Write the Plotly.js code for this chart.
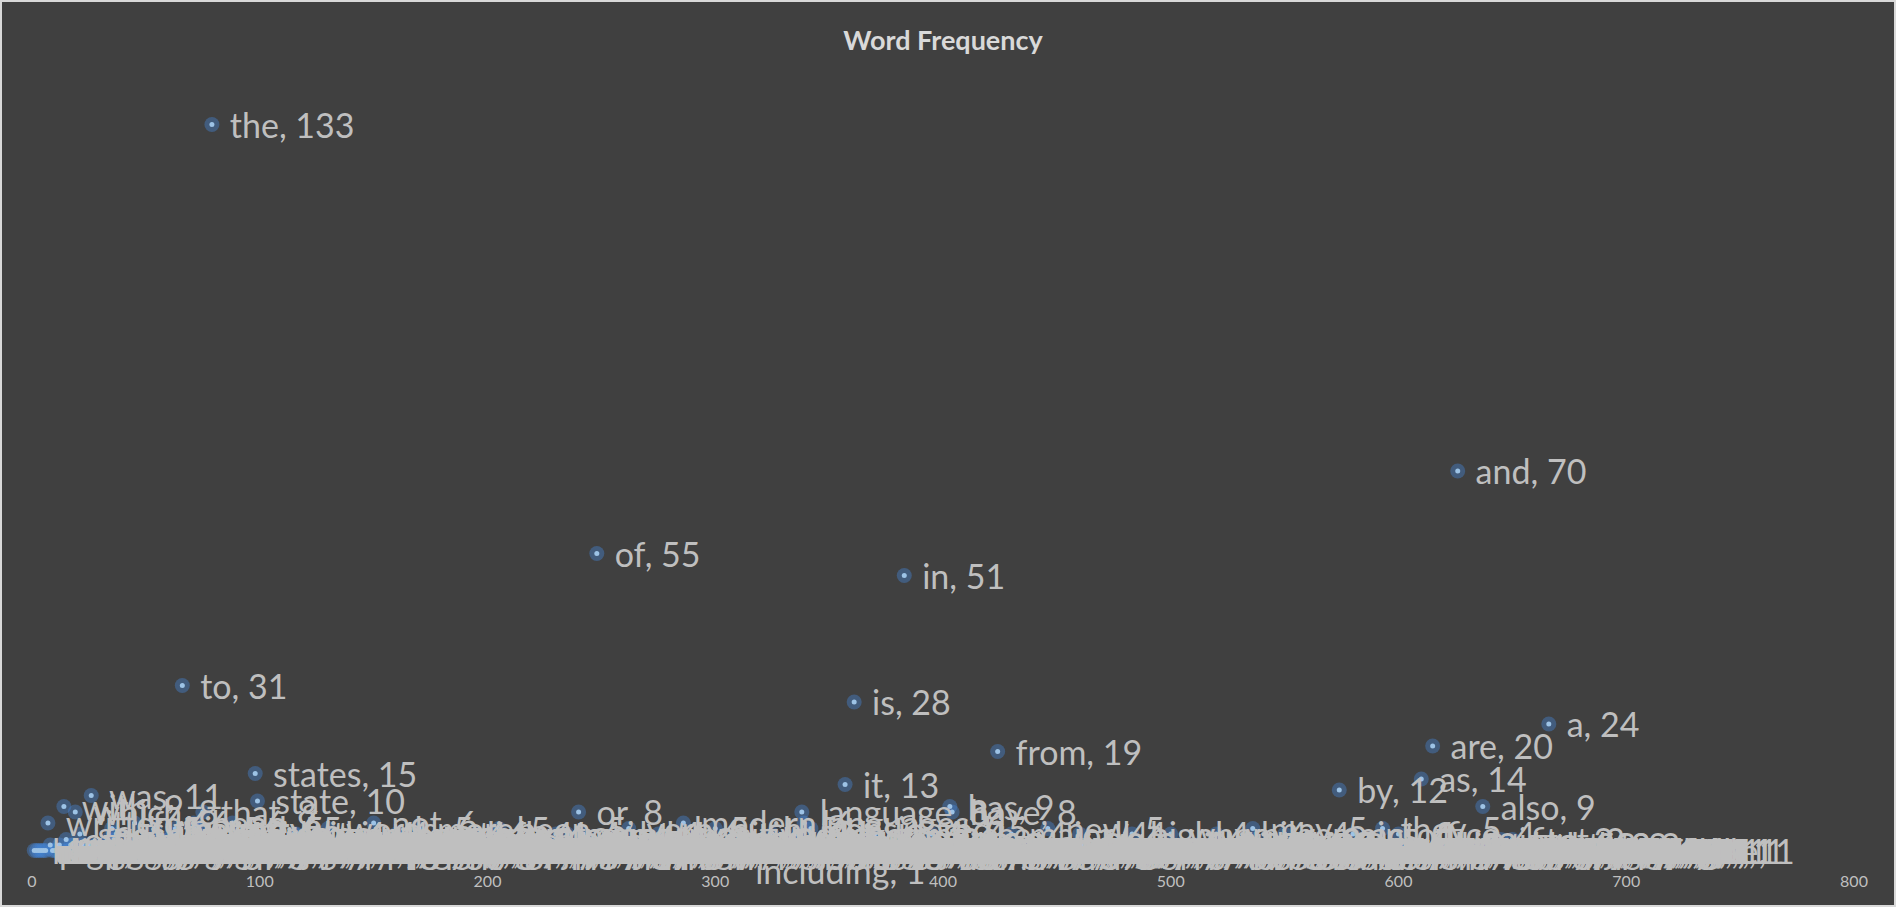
<!DOCTYPE html>
<html>
<head>
<meta charset="utf-8">
<script src="https://cdn.plot.ly/plotly-3.0.1.min.js"></script>
<style>
  html, body { margin: 0; padding: 0; background: #404040; }
  #wrap { position: relative; width: 1896px; height: 907px; }
  #chart { width: 1896px; height: 907px; }
  #frame { position: absolute; left: 0; top: 0; width: 1896px; height: 907px; box-sizing: border-box; border: 2px solid #D9D9D9; pointer-events: none; }
</style>
</head>
<body>
<div id="wrap"><div id="chart"></div><div id="frame"></div></div>
<script>
// Words in plotting order (x position = order in list, as Excel does for text x-values)
const words = [
  "hindi","urdu","region","primarily","northern","central","written","spoken","bengal","lingua",
  "franca","national","capital","with","official","census","million","people","which","speak",
  "speakers","second","nearly","percent","population","was","recognized","constitution","schedule","eighth",
  "among","twenty","two","scheduled","its","devanagari","script","alphabet","left","right",
  "direction","letters","vowels","consonants","for","each","syllable","sound","sounds","vowel",
  "mark","diacritic","inherent","this","system","known","abugida","derived","brahmi","ancient",
  "indian","scripts","century","common","era","to","evolved","gupta","nagari","variety",
  "be","were","used","write","that","several","marathi","nepali","the","konkani",
  "sanskrit","prakrit","apabhramsa","old","middle","stages","development","an","indo","aryan",
  "branch","family","european","iranian","subgroup","closely","related","states","state","union",
  "government","territories","bihar","uttar","pradesh","madhya","rajasthan","haryana","himachal","delhi",
  "jharkhand","chhattisgarh","uttarakhand","belt","their","other","local","dialect","standard","standardised",
  "register","khariboli","vernacular","area","around","vocabulary","borrowed","persian","arabic","words",
  "loanwords","tatsama","tadbhava","directly","inherited","through","changes","phonological","over","time",
  "history","mughal","empire","court","hindustani","mutually","intelligible","colloquial","level","not",
  "but","differ","formal","literary","literature","poetry","prose","poets","works","one",
  "most","widely","world","third","after","mandarin","spanish","english","some","more",
  "than","countries","nepal","fiji","mauritius","suriname","guyana","trinidad","tobago","south",
  "africa","diaspora","communities","united","kingdom","canada","emirates","arab","abroad","migrants",
  "indentured","labourers","colonial","british","rule","independence","since","adopted","assembly","debate",
  "compromise","numerals","international","form","been","article","declared","shall","duty","promote",
  "spread","develop","serve","medium","expression","composite","culture","day","celebrated","september",
  "fourteenth","every","year","diwas","january","tenth","council","institutions","education","taught",
  "schools","universities","compulsory","subject","many","three","policy","formula","regional","or",
  "grammatical","gender","masculine","feminine","nouns","number","singular","of","case","direct",
  "oblique","vocative","postpositions","instead","prepositions","verbs","agree","object","order","sov",
  "typical","verb","final","auxiliary","tense","aspect","mood","perfective","imperfective","progressive",
  "split","ergative","alignment","past","transitive","pronouns","honorific","distinctions","familiar","intimate",
  "respectful","forms","person","address","polite","modern","phonology","aspirated","unaspirated","stops",
  "retroflex","dental","nasal","nasalized","fricatives","loan","pronounced","rural","urban","such",
  "early","texts","amir","khusrau","thirteenth","poet","called","hindavi","dehlavi","name",
  "term","originally","meant","land","indus","including","river","sindhu","became","referring",
  "inhabitants","adjective","suffix","meaning","during","medieval","bhakti","movement","kabir","tulsidas",
  "ramcharitmanas","epic","awadhi","braj","bhasha","dialects","varieties","language","languages","bhojpuri",
  "maithili","considered","separate","distinct","however","linguists","classify","western","eastern","groups",
  "group","includes","bundeli","kannauji","haryanvi","chhattisgarhi","it","bagheli","magahi","continuum",
  "is","pahari","between","neighbouring","gujarati","punjabi","rajasthani","marwari","malvi","same",
  "media","film","industry","bollywood","films","songs","television","radio","newspapers","print",
  "press","internet","in","usage","growing","online","content","unicode","computing","software",
  "keyboard","input","methods","typing","these","fonts","digital","resources","dictionary","dictionaries",
  "compiled","scholars","has","have","grierson","survey","linguistic","conducted","nineteenth","twentieth",
  "centuries","missionaries","grammars","published","translation","bible","sahitya","sammelan","founded","society",
  "pracharini","sabha","varanasi","from","allahabad","prayagraj","city","cities","lucknow","major",
  "centres","learning","writers","premchand","novels","stories","short","novelist","chhayavad","romantic",
  "nirala","prasad","pant","mahadevi","verma","new","trends","realism","experimental","nai",
  "kahani","post","contemporary","authors","awards","prize","academy","honours","recognition","all",
  "global","status","conference","held","organised","secretariat","port","louis","ministry","affairs",
  "external","commission","technical","terminology","scientific","coined","terms","purist","purism","sanskritised",
  "criticism","artificial","high","difficult","everyday","speech","mixed","hinglish","code","switching",
  "mixing","youth","advertising","popular","increasingly","phrases","sentences","structure","syntax","when",
  "example","examples","like","who","where","what","whose","there","here","then",
  "only","both","either","neither","within","without","under","about","approximately","while",
  "because","although","though","whereas","therefore","thus","hence","particularly","especially","generally",
  "usually","often","sometimes","rarely","largely","may","can","could","would","should",
  "must","will","did","does","do","had","being","having","remained","remains",
  "continued","began","started","emerged","developed","grew","declined","flourished","replaced","influenced",
  "influence","contact","portuguese","turkic","chagatai","dravidian","tamil","telugu","kannada","malayalam",
  "southern","opposition","imposition","by","protests","agitation","nadu","riots","anti","act",
  "amended","continue","alongside","indefinitely","parliament","passed","law","laws","courts","judiciary",
  "supreme","proceedings","they","administration","administrative","purposes","communication","correspondence","offices","office",
  "civil","services","examinations","candidates","option","answer","papers","exams","military","as",
  "armed","forces","railways","signs","are","boards","bilingual","trilingual","banks","documents",
  "passports","currency","notes","rupee","symbol","and","printed","denomination","panel","fifteen",
  "counted","total","figure","figures","estimate","estimates","also","report","data","mother",
  "tongue","returns","listed","grouped","into","label","heading","rationalised","classification","first",
  "largest","share","growth","rate","increase","decade","previous","last","next","future",
  "projected","trend","rise","fall","decline","a","shift","younger","generations","older",
  "elderly","families","household","home","domains","domain","public","private","sphere","life",
  "daily","work","arts","trade","sale","jobs","pay","tax","vote","poll",
  "faith","hindu","islam","self","ties","unity","pride","roots","lore","song",
  "tale","epics","music","dance","play","stage","folk","oral","until","native"
];

// Occurrence count of each word (same order as words)
const counts = [
  1,1,1,1,1,1,6,2,1,1,
  1,2,1,9,3,1,2,2,8,1,
  4,2,1,1,2,11,1,2,1,1,
  2,1,3,1,5,3,4,1,1,1,
  1,2,2,2,6,1,1,2,1,1,
  1,1,1,5,2,3,1,2,1,3,
  4,2,5,2,1,31,1,1,1,1,
  6,5,5,1,8,2,1,1,133,1,
  4,2,1,2,1,1,2,6,3,3,
  1,2,2,1,1,1,2,15,10,2,
  3,1,1,1,2,1,1,1,1,2,
  1,1,1,2,4,4,2,1,3,1,
  2,1,1,1,2,3,2,3,2,5,
  1,1,1,1,1,3,1,1,2,2,
  2,1,2,1,3,1,1,1,1,6,
  3,1,2,2,3,1,1,1,2,4,
  4,2,2,1,2,1,1,4,2,5,
  3,2,1,2,1,1,1,1,1,1,
  1,2,1,2,1,1,1,1,1,1,
  1,1,1,2,4,2,3,2,1,1,
  1,2,1,4,5,1,1,1,1,1,
  1,1,1,1,1,1,2,1,1,1,
  1,1,2,1,1,1,1,1,2,4,
  2,1,1,1,4,2,1,1,2,8,
  1,4,2,2,3,2,1,55,2,1,
  1,1,2,1,1,3,1,1,2,1,
  1,5,1,1,2,2,1,1,1,1,
  1,1,1,2,4,2,1,1,1,1,
  1,3,2,1,1,6,1,1,1,1,
  2,1,1,1,1,1,1,1,1,5,
  2,2,1,1,1,1,3,1,1,2,
  2,1,1,1,1,1,1,1,2,1,
  1,1,1,2,4,2,1,1,1,1,
  1,1,2,2,1,4,3,8,6,1,
  1,5,1,1,2,1,1,2,2,1,
  1,2,1,1,1,1,13,1,1,1,
  28,1,2,1,1,1,1,1,1,4,
  2,2,1,1,1,1,1,1,1,1,
  1,1,51,2,1,1,1,1,1,1,
  1,1,1,1,4,1,1,1,1,1,
  1,2,9,8,1,1,2,1,1,1,
  1,1,1,1,1,1,1,1,2,1,
  1,1,1,19,1,1,1,1,1,4,
  1,1,2,1,1,1,1,1,1,1,
  1,1,1,1,1,5,1,1,1,1,
  1,1,1,1,1,1,1,1,1,4,
  1,2,1,1,1,1,1,1,1,1,
  1,1,1,1,1,1,2,1,1,2,
  1,1,4,1,1,2,1,1,1,1,
  1,1,1,1,1,1,1,1,1,4,
  2,1,2,2,1,1,1,2,1,1,
  2,2,1,1,1,1,2,2,1,4,
  1,1,1,1,1,1,1,1,1,1,
  1,2,1,1,1,5,3,1,1,1,
  1,1,1,1,1,2,1,1,1,4,
  1,1,1,1,2,1,1,1,1,2,
  2,1,1,1,1,1,1,1,1,1,
  1,1,1,12,1,1,1,1,1,4,
  1,1,1,1,1,1,1,1,1,1,
  1,1,5,1,1,1,1,1,1,4,
  1,1,1,1,1,1,1,1,1,14,
  1,1,1,1,20,1,2,1,1,1,
  1,1,1,1,1,70,1,1,1,1,
  1,1,1,1,1,1,9,1,1,2,
  2,1,1,1,3,1,1,1,1,3,
  2,1,1,1,1,1,1,2,1,1,
  1,1,1,1,1,24,1,1,1,1,
  1,1,1,1,1,1,1,1,1,2,
  1,1,1,1,1,1,1,1,1,1,
  1,1,1,1,1,1,1,1,1,1,
  1,1,1,1,1,1,1,1,1,1
];

// Word whose label sits below its marker in the original
const labelBelow = ["including"];

const xPos = words.map((w, i) => i + 1);
const labels = words.map((w, i) => w + ", " + counts[i]);

const glow = {
  type: "scatter", mode: "markers", x: xPos, y: counts,
  marker: { size: 15, color: "rgba(70,130,210,0.42)", line: { width: 0 } },
  hoverinfo: "skip", cliponaxis: false, showlegend: false
};
const dots = {
  type: "scatter", mode: "markers", x: xPos, y: counts,
  marker: { size: 5, color: "#9DC3E6", line: { width: 0 } },
  hoverinfo: "skip", cliponaxis: false, showlegend: false
};
// Labels drawn on an overlaid axis whose range is nudged a few pixels so the
// text sits slightly lower next to each marker, as Excel places data labels.
const text = {
  type: "scatter", mode: "markers+text", x: xPos, y: counts, text: labels, yaxis: "y2",
  textposition: words.map(w => labelBelow.includes(w) ? "bottom right" : "middle right"),
  textfont: { family: "Lato, 'Open Sans', sans-serif", size: 34, color: "#BFBFBF" },
  marker: { size: words.map(w => labelBelow.includes(w) ? 4 : 27), color: "rgba(0,0,0,0)", line: { width: 0 } },
  hoverinfo: "skip", cliponaxis: false, showlegend: false
};

const layout = {
  width: 1896, height: 907,
  paper_bgcolor: "#404040", plot_bgcolor: "#404040",
  margin: { l: 32, r: 42, t: 86, b: 50.5, pad: 0 },
  title: {
    text: "<b>Word Frequency</b>",
    font: { family: "Lato, 'Open Sans', sans-serif", size: 27, color: "#D9D9D9" },
    x: 0.5, xref: "paper", xanchor: "center", y: 1 - 41 / 907, yref: "container", yanchor: "middle"
  },
  xaxis: {
    range: [0, 800], dtick: 100, tick0: 0, showgrid: false, zeroline: false, showline: false,
    ticks: "", ticklabelstandoff: 14,
    tickfont: { family: "Lato, 'Open Sans', sans-serif", size: 16, color: "#BFBFBF" },
    fixedrange: true
  },
  yaxis: {
    range: [0, 140], showgrid: false, zeroline: false, showline: false,
    showticklabels: false, ticks: "", fixedrange: true
  },
  yaxis2: {
    range: [0.9, 140.9], overlaying: "y", showgrid: false, zeroline: false, showline: false,
    showticklabels: false, ticks: "", fixedrange: true
  },
  showlegend: false
};

Plotly.newPlot("chart", [glow, dots, text], layout, { displayModeBar: false, staticPlot: true });
</script>
</body>
</html>
